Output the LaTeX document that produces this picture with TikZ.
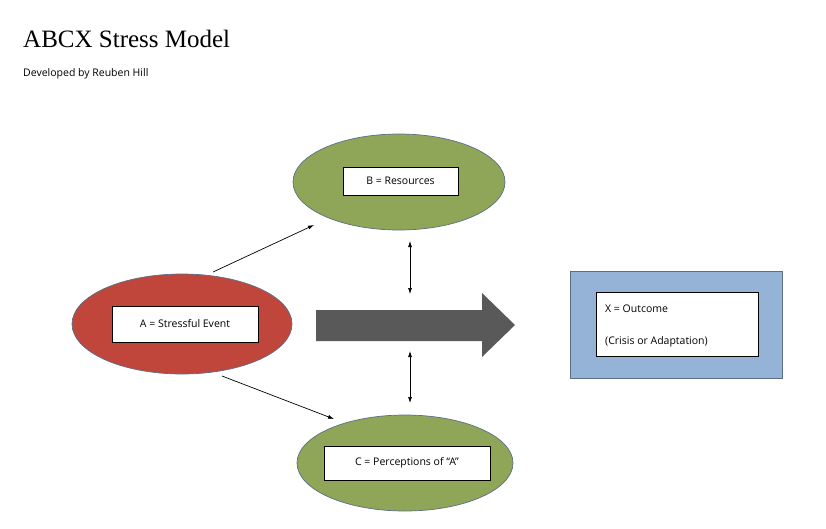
\documentclass[tikz,border=0pt]{standalone}
\usepackage{fontspec}
\setmainfont{Open Sans}
\newfontfamily\titlefont{Liberation Serif}
\usetikzlibrary{arrows.meta}
\definecolor{grn}{HTML}{8FA659}
\definecolor{red1}{HTML}{C0463C}
\definecolor{blu}{HTML}{95B3D7}
\definecolor{blb}{HTML}{5A6F87}
\definecolor{gry}{HTML}{595959}
\begin{document}
\begin{tikzpicture}[x=1pt,y=-1pt,
  lbl/.style={draw=black,fill=white,line width=0.8pt,font=\fontsize{10.5}{12}\selectfont,inner sep=0pt,anchor=center},
  ell/.style={draw=blb,line width=0.7pt},
  arr/.style={-{Latex[length=6pt,width=4pt]},line width=0.7pt},
  darr/.style={{Latex[length=6pt,width=4pt]}-{Latex[length=6pt,width=4pt]},line width=0.7pt}]
\useasboundingbox (0,0) rectangle (826,528);
\node[anchor=base west,inner sep=0pt,font=\titlefont\fontsize{25}{28}\selectfont] (t) at (23,47) {ABCX Stress Model};
\node[anchor=base west,inner sep=0pt,font=\fontsize{10.5}{12}\selectfont] (s) at (23,76) {Developed by Reuben Hill};
\draw[ell,fill=grn] (399,182) ellipse [x radius=106,y radius=48];
\node[lbl,minimum width=115,minimum height=28] (b) at (400.5,181) {B = Resources};
\draw[ell,fill=red1] (182,324) ellipse [x radius=110,y radius=50];
\node[lbl,minimum width=146,minimum height=36] (a) at (185,324) {A = Stressful Event};
\draw[ell,fill=grn] (405,463) ellipse [x radius=108,y radius=48];
\node[lbl,minimum width=166,minimum height=34] (c) at (407,463) {C = Perceptions of “A”};
\fill[gry] (316,310) -- (482,310) -- (482,293) -- (515,325) -- (482,357) -- (482,341) -- (316,341) -- cycle;
\draw[blb,fill=blu,line width=0.7pt] (570,271) rectangle (782,378);
\node[lbl,minimum width=162,minimum height=64] (x) at (677,324) {};
\node[anchor=base west,inner sep=0pt,font=\fontsize{10.5}{12}\selectfont] (x1) at (605,312) {X = Outcome};
\node[anchor=base west,inner sep=0pt,font=\fontsize{10.5}{12}\selectfont] (x2) at (605,344) {(Crisis or Adaptation)};
\coordinate (p1) at (213,272); \coordinate (p2) at (314,225);
\coordinate (q1) at (222,376); \coordinate (q2) at (334,419);
\coordinate (u1) at (410,241); \coordinate (u2) at (410,294);
\coordinate (v1) at (410,351); \coordinate (v2) at (410,403);
\draw[arr] (p1) -- (p2);
\draw[arr] (q1) -- (q2);
\draw[darr] (u1) -- (u2);
\draw[darr] (v1) -- (v2);
\end{tikzpicture}
\end{document}
